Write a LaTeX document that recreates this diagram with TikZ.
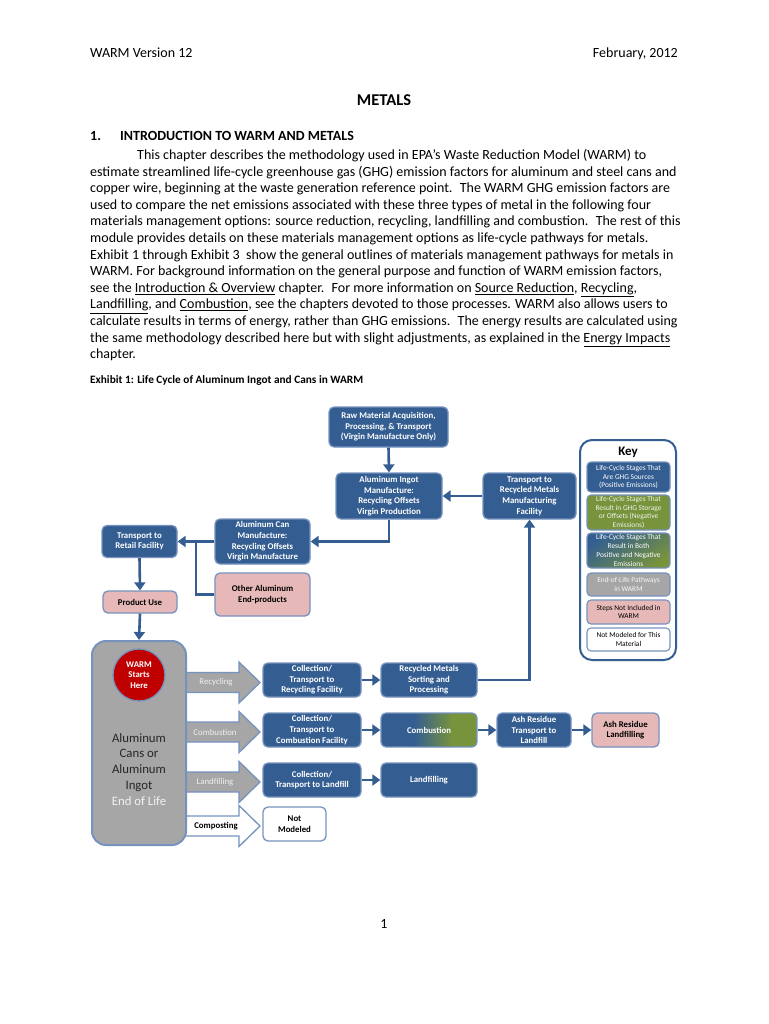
\documentclass[tikz,border=0pt]{standalone}
\usepackage{fontspec}
\setmainfont{Carlito}
\usetikzlibrary{arrows.meta,calc}
\definecolor{dblue}{RGB}{52,94,145}
\definecolor{bord}{RGB}{118,146,190}
\definecolor{kgreen}{RGB}{119,147,60}
\definecolor{pinkf}{RGB}{230,185,184}
\definecolor{grayf}{RGB}{166,166,166}
\definecolor{redc}{RGB}{192,0,0}
\definecolor{conncol}{RGB}{52,94,145}
\definecolor{bigtext}{RGB}{38,38,38}
\begin{document}
\begin{tikzpicture}[x=1pt,y=-1pt,
  bodyfont/.style={font=\fontsize{14}{16.6}\selectfont},
  bodyline/.style={bodyfont, anchor=base west, inner sep=0pt},
  bt/.style={font=\fontsize{8.8}{10.6}\selectfont\bfseries, align=center},
  sz/.style 2 args={minimum width=#1, minimum height=#2},
  bluebox/.style={bt, rectangle, rounded corners=5pt, draw=bord, line width=1.3pt, fill=dblue, text=white, inner sep=1pt},
  pinkbox/.style={bluebox, fill=pinkf, text=black},
  whitebox/.style={bluebox, fill=white, text=black},
  openbox/.style={bt, rectangle, rounded corners=5pt, draw=bord, line width=1.3pt, text=white, inner sep=1pt},
  kt/.style={font=\fontsize{7.4}{8.8}\selectfont, align=center},
  keybox/.style={kt, rectangle, rounded corners=4pt, draw=bord, line width=1.1pt, inner sep=0.5pt, minimum width=83},
  conn/.style={draw=conncol, line width=2.6pt, -{Triangle[length=8pt,width=11pt]}},
  connline/.style={draw=conncol, line width=2.6pt},
  bigarr/.style={draw=bord, line width=1.3pt, line join=miter},
  arrlab/.style={font=\fontsize{8.8}{10}\selectfont, inner sep=0pt}
]
\fill[white] (0,0) rectangle (768,1024);
\useasboundingbox (0,0) rectangle (768,1024);

% ---------- page text ----------
\node[bodyline] (hdrL) at (90,58) {WARM Version 12};
\node[bodyline, anchor=base east] (hdrR) at (678,58) {February, 2012};
\node[font=\fontsize{16.5}{18}\selectfont\bfseries, anchor=base, inner sep=0pt] (title) at (384,106) {METALS};
\node[font=\fontsize{14}{18}\selectfont\bfseries, anchor=base west, inner sep=0pt] (secnum) at (90,141) {1.};
\node[font=\fontsize{14}{18}\selectfont\bfseries, anchor=base west, inner sep=0pt] (sectitle) at (120,141) {INTRODUCTION TO WARM AND METALS};

\node[bodyline] (l1) at (137,159.5) {This chapter describes the methodology used in EPA’s Waste Reduction Model (WARM) to};
\node[bodyline] (l2) at (90,176.1) {estimate streamlined life-cycle greenhouse gas (GHG) emission factors for aluminum and steel cans and};
\node[bodyline] (l3) at (90,192.7) {copper wire, beginning at the waste generation reference point. \ The WARM GHG emission factors are};
\node[bodyline] (l4) at (90,209.3) {used to compare the net emissions associated with these three types of metal in the following four};
\node[bodyline] (l5) at (90,225.9) {materials management options: source reduction, recycling, landfilling and combustion. \ The rest of this};
\node[bodyline] (l6) at (90,242.5) {module provides details on these materials management options as life-cycle pathways for metals.};
\node[bodyline] (l7) at (90,259.1) {Exhibit 1 through Exhibit 3 \ show the general outlines of materials management pathways for metals in};
\node[bodyline] (l8) at (90,275.7) {WARM. For background information on the general purpose and function of WARM emission factors,};
\node[bodyline] (l9) at (90,292.3) {see the \underline{Introduction \& Overview} chapter. \ For more information on \underline{Source Reduction}, \underline{Recycling},};
\node[bodyline] (l10) at (90,308.9) {\underline{Landfilling}, and \underline{Combustion}, see the chapters devoted to those processes. WARM also allows users to};
\node[bodyline] (l11) at (90,325.5) {calculate results in terms of energy, rather than GHG emissions. \ The energy results are calculated using};
\node[bodyline] (l12) at (90,342.1) {the same methodology described here but with slight adjustments, as explained in the \underline{Energy Impacts}};
\node[bodyline] (l13) at (90,358.7) {chapter.};

\node[font=\fontsize{11.3}{13}\selectfont\bfseries, anchor=base west, inner sep=0pt] (exh) at (90,383) {Exhibit 1: Life Cycle of Aluminum Ingot and Cans in WARM};

\node[bodyline, anchor=base] (pnum) at (384,928) {1};

% ---------- upper chain ----------
\node[bluebox, sz={119}{40}] (raw) at (388.5,427) {Raw Material Acquisition,\\Processing, \& Transport\\(Virgin Manufacture Only)};
\node[bluebox, sz={106}{46}] (ingot) at (389,496) {Aluminum Ingot\\Manufacture:\\Recycling Offsets\\Virgin Production};
\node[bluebox, sz={93}{46}] (trans) at (529.5,496) {Transport to\\Recycled Metals\\Manufacturing\\Facility};
\node[bluebox, sz={95}{45}] (can) at (262.5,541.5) {Aluminum Can\\Manufacture:\\Recycling Offsets\\Virgin Manufacture};
\node[bluebox, sz={75}{32}] (retail) at (139.5,541.5) {Transport to\\Retail Facility};
\node[pinkbox, sz={95}{43}] (other) at (262.5,594.5) {Other Aluminum\\End-products};
\node[pinkbox, sz={74}{22}] (use) at (140,602) {Product Use};

\coordinate (junc) at (196,541.5);

\draw[conn] (raw.south) -- (ingot.north);
\draw[conn] (trans.west) -- (ingot.east);
\draw[conn] (ingot.south) |- (can.east);
\draw[conn] (can.west) -- (retail.east);
\draw[connline] (other.west) -| (junc);
\draw[conn] (retail.south) -- (use.north);

% ---------- block arrows ----------
\draw[bigarr, fill=grayf] (183,672.5) -- (239,672.5) -- (239,662) -- (260,682.5) -- (239,703) -- (239,692.5) -- (183,692.5) -- cycle;
\draw[bigarr, fill=grayf] (183,722) -- (239,722) -- (239,711.5) -- (260,732) -- (239,752.5) -- (239,742) -- (183,742) -- cycle;
\draw[bigarr, fill=grayf] (183,772) -- (239,772) -- (239,761.5) -- (260,782) -- (239,802.5) -- (239,792) -- (183,792) -- cycle;
\draw[bigarr, fill=white] (183,816) -- (239,816) -- (239,805.5) -- (260,826) -- (239,846.5) -- (239,836) -- (183,836) -- cycle;
\node[arrlab, text=white!94!black] (aRec) at (216,682.5) {Recycling};
\node[arrlab, text=white!94!black] (aComb) at (215,732) {Combustion};
\node[arrlab, text=white!94!black] (aLand) at (215,782) {Landfilling};
\node[arrlab, font=\fontsize{8.8}{10}\selectfont\bfseries, text=black] (aComp) at (216,826) {Composting};

% ---------- big end-of-life box ----------
\node[rectangle, rounded corners=14pt, draw=bord, line width=2pt, fill=grayf, sz={94}{204}] (big) at (139,743) {};
\draw[conn] (use.south) -- (big.north);
\node[circle, fill=redc, draw=bord, line width=1.3pt, minimum size=52, inner sep=0pt, text=white, bt] (start) at (139,675) {WARM\\Starts\\Here};
\node[align=center, font=\fontsize{12.8}{15.6}\selectfont, text=bigtext, inner sep=0pt] (bigtxt) at (139,769.5) {Aluminum\\Cans or\\Aluminum\\Ingot\\[1pt]\textcolor{white!95!black}{End of Life}};

% ---------- pathways ----------
\node[bluebox, sz={98}{34}] (coll1) at (312,680) {Collection/\\Transport to\\Recycling Facility};
\node[bluebox, sz={96}{34}] (sort) at (429,680) {Recycled Metals\\Sorting and\\Processing};
\node[bluebox, sz={98}{34}] (coll2) at (312,730) {Collection/\\Transport to\\Combustion Facility};
% combustion gradient box
\begin{scope}
  \clip[rounded corners=5pt] (381,713) rectangle (477,747);
  \fill[dblue] (381,713) rectangle (477,747);
  \shade[left color=dblue, right color=kgreen] (414,713) rectangle (452,747);
  \fill[kgreen] (452,713) rectangle (477,747);
\end{scope}
\node[openbox, sz={96}{34}] (comb) at (429,730) {Combustion};
\node[bluebox, sz={74}{34}] (ash1) at (534,730) {Ash Residue\\Transport to\\Landfill};
\node[pinkbox, sz={67}{34}] (ash2) at (625.5,730) {Ash Residue\\Landfilling};
\node[bluebox, sz={98}{34}] (coll3) at (312,780) {Collection/\\Transport to Landfill};
\node[bluebox, sz={96}{34}] (land) at (429,780) {Landfilling};
\node[whitebox, sz={63}{34}] (notmod) at (294.5,824) {Not\\Modeled};

\draw[conn] (coll1.east) -- (sort.west);
\draw[conn] (coll2.east) -- (comb.west);
\draw[conn] (comb.east) -- (ash1.west);
\draw[conn] (ash1.east) -- (ash2.west);
\draw[conn] (coll3.east) -- (land.west);
\draw[conn] (sort.east) -| (trans.south);

% ---------- key ----------
\node[rectangle, rounded corners=12pt, draw=dblue, line width=2pt, fill=white, sz={96}{220}, inner sep=0pt] (key) at (628,550) {};
\node[font=\fontsize{13}{15}\selectfont\bfseries, inner sep=0pt] (keytitle) at (628,452) {Key};
\node[keybox, fill=dblue, text=white, minimum height=30] (k1) at (628.5,477) {Life-Cycle Stages That\\Are GHG Sources\\(Positive Emissions)};
\node[keybox, fill=kgreen, text=white!90!kgreen, minimum height=35] (k2) at (628.5,512.5) {Life-Cycle Stages That\\Result in GHG Storage\\or Offsets (Negative\\Emissions)};
\begin{scope}
  \clip[rounded corners=4pt] (587,533) rectangle (670,568);
  \shade[top color=dblue, bottom color=kgreen, shading angle=35] (587,533) rectangle (670,568);
\end{scope}
\node[keybox, text=white, minimum height=35] (k3) at (628.5,550.5) {Life-Cycle Stages That\\Result in Both\\Positive and Negative\\Emissions};
\node[keybox, fill=grayf, text=white!90!grayf, minimum height=23] (k4) at (628.5,584.5) {End-of-Life Pathways\\in WARM};
\node[keybox, fill=pinkf, text=black, minimum height=24] (k5) at (628.5,612) {Steps Not Included in\\WARM};
\node[keybox, fill=white, text=black, minimum height=23] (k6) at (628.5,639.5) {Not Modeled for This\\Material};
\end{tikzpicture}
\end{document}
